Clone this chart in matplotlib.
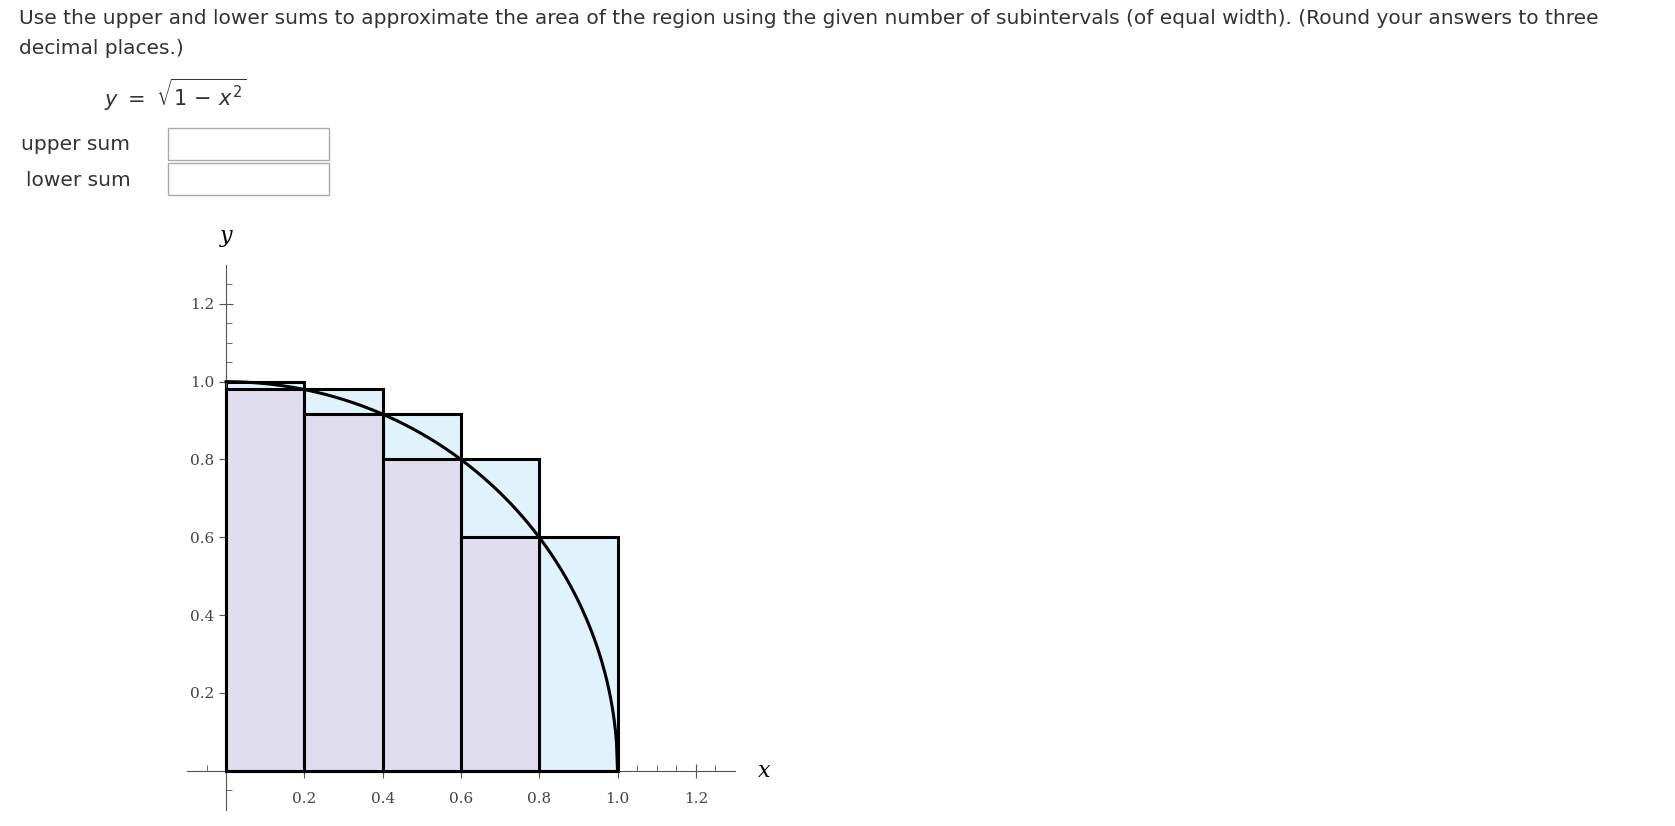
import numpy as np
import matplotlib
matplotlib.use("Agg")
import matplotlib.pyplot as plt
from matplotlib.patches import Rectangle

lefts = [0.0, 0.2, 0.4, 0.6, 0.8]
width = 0.2
upper = [1.0, 0.980, 0.917, 0.8, 0.6]
lower = [0.980, 0.917, 0.8, 0.6, 0.0]
xticks = [0.2, 0.4, 0.6, 0.8, 1.0, 1.2]
yticks = [0.2, 0.4, 0.6, 0.8, 1.0, 1.2]

W, H = 1675, 826
fig = plt.figure(figsize=(W/100, H/100), dpi=100)
S = 1675/1568
def fx(px): return px/1568
def fy(py): return 1 - py/(826/S)

font = dict(family="DejaVu Sans", fontsize=14.5, color="#333333")
fig.text(fx(18), fy(17), "Use the upper and lower sums to approximate the area of the region using the given number of subintervals (of equal width). (Round your answers to three", va="center", **font)
fig.text(fx(18), fy(45), "decimal places.)", va="center", **font)
fig.text(fx(97), fy(89), r"$y\ =\ \sqrt{1\,-\,x^2}$", va="center", fontsize=15, color="#333333")
fig.text(fx(20), fy(135), "upper sum", va="center", **font)
fig.text(fx(24), fy(169), "lower sum", va="center", **font)
for py in (120, 153):
    fig.patches.append(Rectangle((fx(157), fy(py+30)), fx(151), fy(py)-fy(py+30),
                                 transform=fig.transFigure, fill=False, ec="#aaaaaa", lw=1))

ax = fig.add_axes([fx(175), fy(758), fx(688)-fx(175), fy(248)-fy(758)])
ax.set_xlim(-0.1, 1.3)
ax.set_ylim(-0.1, 1.3)
for l, u in zip(lefts, upper):
    ax.add_patch(Rectangle((l, 0), width, u, fc="#e0f2fc", ec="black", lw=2.2, zorder=2))
for l, lo in zip(lefts, lower):
    ax.add_patch(Rectangle((l, 0), width, lo, fc="#e0ddee", ec="black", lw=2.2, zorder=3))
xs = np.linspace(0, 1, 400)
ax.plot(xs, np.sqrt(1 - xs**2), color="black", lw=2.2, zorder=4)

for s in ("top", "right"):
    ax.spines[s].set_visible(False)
ax.spines["left"].set_position(("data", 0))
ax.spines["bottom"].set_position(("data", 0))
ax.spines["left"].set_color("#555555")
ax.spines["bottom"].set_color("#555555")
ax.set_xticks(xticks)
ax.set_yticks(yticks)
ax.set_xticklabels([f"{t:.1f}" for t in xticks], family="DejaVu Serif", fontsize=11, color="#444444")
ax.set_yticklabels([f"{t:.1f}" for t in yticks], family="DejaVu Serif", fontsize=11, color="#444444")
ax.set_xticks(np.arange(-0.05, 1.3, 0.05), minor=True)
ax.set_yticks(np.arange(-0.05, 1.3, 0.05), minor=True)
ax.tick_params(which="major", direction="inout", length=10, color="#555555")
ax.tick_params(which="minor", direction="in", length=4, color="#555555")
ax.tick_params(axis="x", pad=10)
ax.text(1.36, 0.0, "x", style="italic", family="DejaVu Serif", fontsize=16, va="center", clip_on=False)
ax.text(0.0, 1.36, "y", style="italic", family="DejaVu Serif", fontsize=16, ha="center", clip_on=False)
ax.patch.set_alpha(0)
fig.savefig("out.png", dpi=100)
